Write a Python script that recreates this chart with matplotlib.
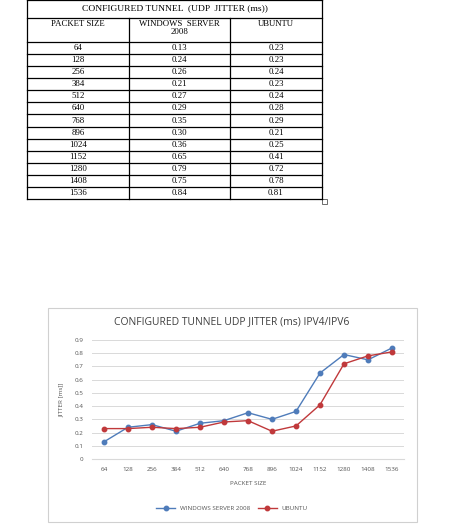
import matplotlib
matplotlib.use("Agg")
import matplotlib.pyplot as plt
from matplotlib.patches import Rectangle

packet_sizes = ["64", "128", "256", "384", "512", "640", "768", "896",
                "1024", "1152", "1280", "1408", "1536"]
windows = [0.13, 0.24, 0.26, 0.21, 0.27, 0.29, 0.35, 0.30, 0.36, 0.65, 0.79, 0.75, 0.84]
ubuntu = [0.23, 0.23, 0.24, 0.23, 0.24, 0.28, 0.29, 0.21, 0.25, 0.41, 0.72, 0.78, 0.81]

W, H = 449, 530
fig = plt.figure(figsize=(W / 100, H / 100), dpi=100)
serif = "Liberation Serif"
sans = "Open Sans"


def fx(px):
    return px / W


def fy(py):
    return 1 - py / H


# ---- table (drawn in figure pixel coords) ----
tab = fig.add_axes([0, 0, 1, 1])
tab.set_xlim(0, W)
tab.set_ylim(H, 0)
tab.axis("off")
cols = [27, 129, 230, 322]
rows = [0, 18, 42] + [42 + 12.08 * (i + 1) for i in range(len(packet_sizes))]
lw = 0.9
tab.plot([cols[0], cols[-1]], [rows[0], rows[0]], color="black", lw=lw)
for y in rows[1:]:
    tab.plot([cols[0], cols[-1]], [y, y], color="black", lw=lw)
tab.plot([cols[0], cols[0]], [rows[0], rows[-1]], color="black", lw=lw)
tab.plot([cols[-1], cols[-1]], [rows[0], rows[-1]], color="black", lw=lw)
for x in cols[1:-1]:
    tab.plot([x, x], [rows[1], rows[-1]], color="black", lw=lw)
tab.text((cols[0] + cols[-1]) / 2, 8, "CONFIGURED TUNNEL  (UDP  JITTER (ms))",
         ha="center", va="center", fontsize=6.8, family=serif)
heads = ["PACKET SIZE", "WINDOWS  SERVER\n2008", "UBUNTU"]
for i, h in enumerate(heads):
    tab.text((cols[i] + cols[i + 1]) / 2, 20, h, ha="center", va="top",
             fontsize=6.3, family=serif, linespacing=1.0)
for r, (p, a, b) in enumerate(zip(packet_sizes, windows, ubuntu)):
    yc = (rows[r + 2] + rows[r + 3]) / 2
    for i, v in enumerate([p, f"{a:.2f}", f"{b:.2f}"]):
        tab.text((cols[i] + cols[i + 1]) / 2, yc, v, ha="center", va="center",
                 fontsize=6.3, family=serif)
tab.add_patch(Rectangle((322, 199), 5, 5, fill=False, lw=0.6, ec="#555555"))

# ---- chart frame ----
tab.add_patch(Rectangle((48, 308), 369, 214, fill=False, lw=0.8, ec="#d0d0d0"))

ax = fig.add_axes([fx(92), fy(459), fx(404) - fx(92), (459 - 340) / H])
xs = range(len(packet_sizes))
ax.plot(xs, windows, color="#4f7cba", marker="o", ms=3.2, lw=1, label="WINDOWS SERVER 2008")
ax.plot(xs, ubuntu, color="#c0393b", marker="o", ms=3.2, lw=1, label="UBUNTU")
ax.set_xlim(-0.5, len(packet_sizes) - 0.5)
ax.set_ylim(0, 0.9)
ax.set_yticks([i / 10 for i in range(10)])
ax.set_yticklabels(["0"] + [f"{i / 10:.1f}" for i in range(1, 10)])
ax.set_xticks(list(xs))
ax.set_xticklabels(packet_sizes)
ax.grid(axis="y", color="#d9d9d9", lw=0.7)
ax.set_axisbelow(True)
for s in ["top", "right", "left"]:
    ax.spines[s].set_visible(False)
ax.spines["bottom"].set_color("#d9d9d9")
ax.tick_params(length=0, labelsize=4.5, colors="#555555", pad=6)
for lab in ax.get_xticklabels() + ax.get_yticklabels():
    lab.set_family(sans)
ax.set_xlabel("PACKET SIZE", fontsize=4.5, family=sans, color="#555555", labelpad=6)
ax.set_ylabel("JITTER [ms]]", fontsize=4.5, family=sans, color="#555555", labelpad=8)

fig.text(fx(232), fy(322), "CONFIGURED TUNNEL UDP JITTER (ms) IPV4/IPV6",
         ha="center", va="center", fontsize=7.5, family=sans, color="#404040")
fig.legend(loc="center", bbox_to_anchor=(fx(232), fy(508)), ncol=2, frameon=False,
           prop={"family": sans, "size": 4.5}, handlelength=3, columnspacing=1.2,
           labelcolor="#555555")

fig.savefig("out.png", dpi=100)
